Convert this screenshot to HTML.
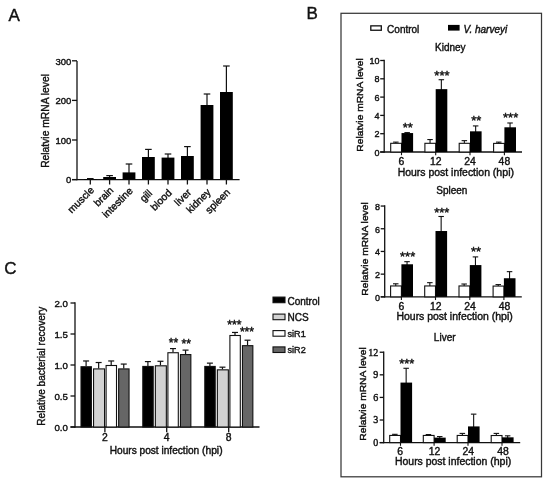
<!DOCTYPE html>
<html><head><meta charset="utf-8"><title>Figure</title>
<style>
html,body{margin:0;padding:0;background:#fff;}
svg{display:block;font-family:"Liberation Sans",Arial,sans-serif;fill:#111;}
text{stroke:#111;stroke-width:0.4px;}
</style></head><body>
<svg width="550" height="485" viewBox="0 0 550 485">
<rect x="0" y="0" width="550" height="485" fill="#fff"/>
<g>
<text x="8.50" y="21.00" font-size="17" text-anchor="start">A</text>
<line x1="77.00" y1="61.00" x2="77.00" y2="180.25" stroke="#111" stroke-width="1.3"/>
<line x1="72.00" y1="179.60" x2="239.60" y2="179.60" stroke="#111" stroke-width="1.3"/>
<line x1="72.00" y1="179.60" x2="77.00" y2="179.60" stroke="#111" stroke-width="1.3"/>
<text x="71.40" y="183.30" font-size="9.5" text-anchor="end">0</text>
<line x1="72.00" y1="140.00" x2="77.00" y2="140.00" stroke="#111" stroke-width="1.3"/>
<text x="71.40" y="143.70" font-size="9.5" text-anchor="end">100</text>
<line x1="72.00" y1="100.40" x2="77.00" y2="100.40" stroke="#111" stroke-width="1.3"/>
<text x="71.40" y="104.10" font-size="9.5" text-anchor="end">200</text>
<line x1="72.00" y1="60.80" x2="77.00" y2="60.80" stroke="#111" stroke-width="1.3"/>
<text x="71.40" y="64.50" font-size="9.5" text-anchor="end">300</text>
<text x="48.70" y="120.90" font-size="10.3" text-anchor="middle" transform="rotate(-90 48.70 120.90)">Relatvie mRNA level</text>
<line x1="90.30" y1="178.60" x2="90.30" y2="180.00" stroke="#111" stroke-width="1.2"/>
<line x1="87.00" y1="178.60" x2="93.60" y2="178.60" stroke="#111" stroke-width="1.2"/>
<rect x="83.90" y="179.00" width="12.80" height="0.60" fill="#000"/>
<line x1="90.30" y1="179.60" x2="90.30" y2="184.50" stroke="#111" stroke-width="1.3"/>
<text x="94.70" y="190.80" font-size="10.2" text-anchor="end" transform="rotate(-45 94.70 190.80)">muscle</text>
<line x1="109.60" y1="175.60" x2="109.60" y2="178.00" stroke="#111" stroke-width="1.2"/>
<line x1="106.30" y1="175.60" x2="112.90" y2="175.60" stroke="#111" stroke-width="1.2"/>
<rect x="103.20" y="177.00" width="12.80" height="2.60" fill="#000"/>
<line x1="109.60" y1="179.60" x2="109.60" y2="184.50" stroke="#111" stroke-width="1.3"/>
<text x="114.00" y="191.00" font-size="10.2" text-anchor="end" transform="rotate(-45 114.00 191.00)">brain</text>
<line x1="129.00" y1="164.00" x2="129.00" y2="173.40" stroke="#111" stroke-width="1.2"/>
<line x1="125.70" y1="164.00" x2="132.30" y2="164.00" stroke="#111" stroke-width="1.2"/>
<rect x="122.60" y="172.40" width="12.80" height="7.20" fill="#000"/>
<line x1="129.00" y1="179.60" x2="129.00" y2="184.50" stroke="#111" stroke-width="1.3"/>
<text x="133.40" y="191.50" font-size="10.2" text-anchor="end" transform="rotate(-45 133.40 191.50)">intestine</text>
<line x1="148.40" y1="149.40" x2="148.40" y2="158.00" stroke="#111" stroke-width="1.2"/>
<line x1="145.10" y1="149.40" x2="151.70" y2="149.40" stroke="#111" stroke-width="1.2"/>
<rect x="142.00" y="157.00" width="12.80" height="22.60" fill="#000"/>
<line x1="148.40" y1="179.60" x2="148.40" y2="184.50" stroke="#111" stroke-width="1.3"/>
<text x="152.80" y="193.80" font-size="10.2" text-anchor="end" transform="rotate(-45 152.80 193.80)">gill</text>
<line x1="168.00" y1="154.00" x2="168.00" y2="158.60" stroke="#111" stroke-width="1.2"/>
<line x1="164.70" y1="154.00" x2="171.30" y2="154.00" stroke="#111" stroke-width="1.2"/>
<rect x="161.60" y="157.60" width="12.80" height="22.00" fill="#000"/>
<line x1="168.00" y1="179.60" x2="168.00" y2="184.50" stroke="#111" stroke-width="1.3"/>
<text x="172.40" y="193.50" font-size="10.2" text-anchor="end" transform="rotate(-45 172.40 193.50)">blood</text>
<line x1="187.40" y1="146.60" x2="187.40" y2="157.00" stroke="#111" stroke-width="1.2"/>
<line x1="184.10" y1="146.60" x2="190.70" y2="146.60" stroke="#111" stroke-width="1.2"/>
<rect x="181.00" y="156.00" width="12.80" height="23.60" fill="#000"/>
<line x1="187.40" y1="179.60" x2="187.40" y2="184.50" stroke="#111" stroke-width="1.3"/>
<text x="191.80" y="193.20" font-size="10.2" text-anchor="end" transform="rotate(-45 191.80 193.20)">liver</text>
<line x1="207.00" y1="94.00" x2="207.00" y2="106.00" stroke="#111" stroke-width="1.2"/>
<line x1="203.70" y1="94.00" x2="210.30" y2="94.00" stroke="#111" stroke-width="1.2"/>
<rect x="200.60" y="105.00" width="12.80" height="74.60" fill="#000"/>
<line x1="207.00" y1="179.60" x2="207.00" y2="184.50" stroke="#111" stroke-width="1.3"/>
<text x="211.40" y="192.90" font-size="10.2" text-anchor="end" transform="rotate(-45 211.40 192.90)">kidney</text>
<line x1="226.40" y1="66.00" x2="226.40" y2="93.00" stroke="#111" stroke-width="1.2"/>
<line x1="223.10" y1="66.00" x2="229.70" y2="66.00" stroke="#111" stroke-width="1.2"/>
<rect x="220.00" y="92.00" width="12.80" height="87.60" fill="#000"/>
<line x1="226.40" y1="179.60" x2="226.40" y2="184.50" stroke="#111" stroke-width="1.3"/>
<text x="230.80" y="192.90" font-size="10.2" text-anchor="end" transform="rotate(-45 230.80 192.90)">spleen</text>
<text x="306.40" y="19.00" font-size="17" text-anchor="start">B</text>
<rect x="341" y="13.3" width="200.5" height="463.5" fill="none" stroke="#383838" stroke-width="1.25"/>
<rect x="370.80" y="25.85" width="10.50" height="4.40" fill="#fff" stroke="#111" stroke-width="1.3"/>
<text x="387.10" y="32.70" font-size="10" text-anchor="start">Control</text>
<rect x="448.00" y="24.90" width="11.60" height="5.70" fill="#000"/>
<text x="463.50" y="32.70" font-size="10" text-anchor="start" font-style="italic">V. harveyi</text>
<text x="450.30" y="50.70" font-size="10" text-anchor="middle">Kidney</text>
<line x1="384.20" y1="59.85" x2="384.20" y2="152.65" stroke="#111" stroke-width="1.3"/>
<line x1="380.20" y1="152.00" x2="522.00" y2="152.00" stroke="#111" stroke-width="1.3"/>
<line x1="380.20" y1="152.00" x2="384.20" y2="152.00" stroke="#111" stroke-width="1.3"/>
<text x="379.40" y="155.50" font-size="9" text-anchor="end">0</text>
<line x1="380.20" y1="133.70" x2="384.20" y2="133.70" stroke="#111" stroke-width="1.3"/>
<text x="379.40" y="137.20" font-size="9" text-anchor="end">2</text>
<line x1="380.20" y1="115.40" x2="384.20" y2="115.40" stroke="#111" stroke-width="1.3"/>
<text x="379.40" y="118.90" font-size="9" text-anchor="end">4</text>
<line x1="380.20" y1="97.10" x2="384.20" y2="97.10" stroke="#111" stroke-width="1.3"/>
<text x="379.40" y="100.60" font-size="9" text-anchor="end">6</text>
<line x1="380.20" y1="78.80" x2="384.20" y2="78.80" stroke="#111" stroke-width="1.3"/>
<text x="379.40" y="82.30" font-size="9" text-anchor="end">8</text>
<line x1="380.20" y1="60.50" x2="384.20" y2="60.50" stroke="#111" stroke-width="1.3"/>
<text x="379.40" y="64.00" font-size="9" text-anchor="end">10</text>
<text transform="translate(363.30 105.00) rotate(-90) scale(1.08 1)" font-size="9.5" text-anchor="middle">Relatvie mRNA level</text>
<line x1="395.85" y1="142.12" x2="395.85" y2="143.31" stroke="#111" stroke-width="1.1"/>
<line x1="393.10" y1="142.12" x2="398.60" y2="142.12" stroke="#111" stroke-width="1.1"/>
<rect x="390.70" y="143.31" width="10.80" height="8.69" fill="#fff" stroke="#111" stroke-width="1.1"/>
<line x1="407.15" y1="132.60" x2="407.15" y2="134.06" stroke="#111" stroke-width="1.1"/>
<line x1="404.40" y1="132.60" x2="409.90" y2="132.60" stroke="#111" stroke-width="1.1"/>
<rect x="401.50" y="133.06" width="11.60" height="18.94" fill="#000"/>
<line x1="401.50" y1="152.00" x2="401.50" y2="155.20" stroke="#111" stroke-width="1.1"/>
<text x="401.50" y="165.00" font-size="10.4" text-anchor="middle">6</text>
<text x="407.75" y="132.00" font-size="13" text-anchor="middle">**</text>
<line x1="430.05" y1="139.56" x2="430.05" y2="143.31" stroke="#111" stroke-width="1.1"/>
<line x1="427.30" y1="139.56" x2="432.80" y2="139.56" stroke="#111" stroke-width="1.1"/>
<rect x="424.90" y="143.31" width="10.80" height="8.69" fill="#fff" stroke="#111" stroke-width="1.1"/>
<line x1="441.35" y1="79.71" x2="441.35" y2="90.14" stroke="#111" stroke-width="1.1"/>
<line x1="438.60" y1="79.71" x2="444.10" y2="79.71" stroke="#111" stroke-width="1.1"/>
<rect x="435.70" y="89.14" width="11.60" height="62.86" fill="#000"/>
<line x1="435.70" y1="152.00" x2="435.70" y2="155.20" stroke="#111" stroke-width="1.1"/>
<text x="435.70" y="165.00" font-size="10.4" text-anchor="middle">12</text>
<text x="441.95" y="80.00" font-size="13" text-anchor="middle">***</text>
<line x1="464.35" y1="140.65" x2="464.35" y2="143.31" stroke="#111" stroke-width="1.1"/>
<line x1="461.60" y1="140.65" x2="467.10" y2="140.65" stroke="#111" stroke-width="1.1"/>
<rect x="459.20" y="143.31" width="10.80" height="8.69" fill="#fff" stroke="#111" stroke-width="1.1"/>
<line x1="475.65" y1="125.92" x2="475.65" y2="132.32" stroke="#111" stroke-width="1.1"/>
<line x1="472.90" y1="125.92" x2="478.40" y2="125.92" stroke="#111" stroke-width="1.1"/>
<rect x="470.00" y="131.32" width="11.60" height="20.68" fill="#000"/>
<line x1="470.00" y1="152.00" x2="470.00" y2="155.20" stroke="#111" stroke-width="1.1"/>
<text x="470.00" y="165.00" font-size="10.4" text-anchor="middle">24</text>
<text x="476.25" y="125.00" font-size="13" text-anchor="middle">**</text>
<line x1="498.75" y1="142.12" x2="498.75" y2="143.40" stroke="#111" stroke-width="1.1"/>
<line x1="496.00" y1="142.12" x2="501.50" y2="142.12" stroke="#111" stroke-width="1.1"/>
<rect x="493.60" y="143.40" width="10.80" height="8.60" fill="#fff" stroke="#111" stroke-width="1.1"/>
<line x1="510.05" y1="122.99" x2="510.05" y2="128.30" stroke="#111" stroke-width="1.1"/>
<line x1="507.30" y1="122.99" x2="512.80" y2="122.99" stroke="#111" stroke-width="1.1"/>
<rect x="504.40" y="127.30" width="11.60" height="24.70" fill="#000"/>
<line x1="504.40" y1="152.00" x2="504.40" y2="155.20" stroke="#111" stroke-width="1.1"/>
<text x="504.40" y="165.00" font-size="10.4" text-anchor="middle">48</text>
<text x="510.65" y="122.40" font-size="13" text-anchor="middle">***</text>
<text x="397.70" y="175.50" font-size="10.45">Hours post infection <tspan font-size="10.6" stroke-width="0.42">(hpi)</tspan></text>
<text x="451.80" y="194.20" font-size="10" text-anchor="middle">Spleen</text>
<line x1="384.70" y1="205.35" x2="384.70" y2="297.50" stroke="#111" stroke-width="1.3"/>
<line x1="380.70" y1="296.85" x2="521.80" y2="296.85" stroke="#111" stroke-width="1.3"/>
<line x1="380.70" y1="296.85" x2="384.70" y2="296.85" stroke="#111" stroke-width="1.3"/>
<text x="379.90" y="300.75" font-size="9" text-anchor="end">0</text>
<line x1="380.70" y1="274.15" x2="384.70" y2="274.15" stroke="#111" stroke-width="1.3"/>
<text x="379.90" y="278.05" font-size="9" text-anchor="end">2</text>
<line x1="380.70" y1="251.45" x2="384.70" y2="251.45" stroke="#111" stroke-width="1.3"/>
<text x="379.90" y="255.35" font-size="9" text-anchor="end">4</text>
<line x1="380.70" y1="228.75" x2="384.70" y2="228.75" stroke="#111" stroke-width="1.3"/>
<text x="379.90" y="232.65" font-size="9" text-anchor="end">6</text>
<line x1="380.70" y1="206.05" x2="384.70" y2="206.05" stroke="#111" stroke-width="1.3"/>
<text x="379.90" y="209.95" font-size="9" text-anchor="end">8</text>
<text transform="translate(367.90 249.00) rotate(-90) scale(1.08 1)" font-size="9.5" text-anchor="middle">Relatvie mRNA level</text>
<line x1="395.75" y1="283.80" x2="395.75" y2="285.95" stroke="#111" stroke-width="1.1"/>
<line x1="393.00" y1="283.80" x2="398.50" y2="283.80" stroke="#111" stroke-width="1.1"/>
<rect x="390.60" y="285.95" width="10.80" height="10.90" fill="#fff" stroke="#111" stroke-width="1.1"/>
<line x1="407.05" y1="261.67" x2="407.05" y2="265.28" stroke="#111" stroke-width="1.1"/>
<line x1="404.30" y1="261.67" x2="409.80" y2="261.67" stroke="#111" stroke-width="1.1"/>
<rect x="401.40" y="264.28" width="11.60" height="32.57" fill="#000"/>
<line x1="401.40" y1="296.85" x2="401.40" y2="300.05" stroke="#111" stroke-width="1.1"/>
<text x="401.40" y="309.50" font-size="10.4" text-anchor="middle">6</text>
<text x="407.65" y="261.40" font-size="13" text-anchor="middle">***</text>
<line x1="429.85" y1="282.66" x2="429.85" y2="285.95" stroke="#111" stroke-width="1.1"/>
<line x1="427.10" y1="282.66" x2="432.60" y2="282.66" stroke="#111" stroke-width="1.1"/>
<rect x="424.70" y="285.95" width="10.80" height="10.90" fill="#fff" stroke="#111" stroke-width="1.1"/>
<line x1="441.15" y1="216.49" x2="441.15" y2="232.02" stroke="#111" stroke-width="1.1"/>
<line x1="438.40" y1="216.49" x2="443.90" y2="216.49" stroke="#111" stroke-width="1.1"/>
<rect x="435.50" y="231.02" width="11.60" height="65.83" fill="#000"/>
<line x1="435.50" y1="296.85" x2="435.50" y2="300.05" stroke="#111" stroke-width="1.1"/>
<text x="435.70" y="309.50" font-size="10.4" text-anchor="middle">12</text>
<text x="441.75" y="216.80" font-size="13" text-anchor="middle">***</text>
<line x1="464.15" y1="284.02" x2="464.15" y2="285.95" stroke="#111" stroke-width="1.1"/>
<line x1="461.40" y1="284.02" x2="466.90" y2="284.02" stroke="#111" stroke-width="1.1"/>
<rect x="459.00" y="285.95" width="10.80" height="10.90" fill="#fff" stroke="#111" stroke-width="1.1"/>
<line x1="475.45" y1="256.90" x2="475.45" y2="266.07" stroke="#111" stroke-width="1.1"/>
<line x1="472.70" y1="256.90" x2="478.20" y2="256.90" stroke="#111" stroke-width="1.1"/>
<rect x="469.80" y="265.07" width="11.60" height="31.78" fill="#000"/>
<line x1="469.80" y1="296.85" x2="469.80" y2="300.05" stroke="#111" stroke-width="1.1"/>
<text x="470.10" y="309.50" font-size="10.4" text-anchor="middle">24</text>
<text x="476.05" y="256.00" font-size="13" text-anchor="middle">**</text>
<line x1="498.25" y1="284.59" x2="498.25" y2="286.07" stroke="#111" stroke-width="1.1"/>
<line x1="495.50" y1="284.59" x2="501.00" y2="284.59" stroke="#111" stroke-width="1.1"/>
<rect x="493.10" y="286.07" width="10.80" height="10.78" fill="#fff" stroke="#111" stroke-width="1.1"/>
<line x1="509.55" y1="271.65" x2="509.55" y2="279.24" stroke="#111" stroke-width="1.1"/>
<line x1="506.80" y1="271.65" x2="512.30" y2="271.65" stroke="#111" stroke-width="1.1"/>
<rect x="503.90" y="278.24" width="11.60" height="18.61" fill="#000"/>
<line x1="503.90" y1="296.85" x2="503.90" y2="300.05" stroke="#111" stroke-width="1.1"/>
<text x="504.50" y="309.50" font-size="10.4" text-anchor="middle">48</text>
<text x="396.50" y="319.90" font-size="10.45">Hours post infection <tspan font-size="10.6" stroke-width="0.42">(hpi)</tspan></text>
<text x="444.70" y="341.00" font-size="10" text-anchor="middle">Liver</text>
<line x1="383.70" y1="351.55" x2="383.70" y2="443.25" stroke="#111" stroke-width="1.3"/>
<line x1="379.70" y1="442.60" x2="520.20" y2="442.60" stroke="#111" stroke-width="1.3"/>
<line x1="379.70" y1="442.60" x2="383.70" y2="442.60" stroke="#111" stroke-width="1.3"/>
<text x="378.20" y="446.00" font-size="10" text-anchor="end" font-family="'Liberation Serif','Times New Roman',serif">0</text>
<line x1="379.70" y1="420.01" x2="383.70" y2="420.01" stroke="#111" stroke-width="1.3"/>
<text x="378.20" y="423.41" font-size="10" text-anchor="end" font-family="'Liberation Serif','Times New Roman',serif">3</text>
<line x1="379.70" y1="397.42" x2="383.70" y2="397.42" stroke="#111" stroke-width="1.3"/>
<text x="378.20" y="400.82" font-size="10" text-anchor="end" font-family="'Liberation Serif','Times New Roman',serif">6</text>
<line x1="379.70" y1="374.83" x2="383.70" y2="374.83" stroke="#111" stroke-width="1.3"/>
<text x="378.20" y="378.23" font-size="10" text-anchor="end" font-family="'Liberation Serif','Times New Roman',serif">9</text>
<line x1="379.70" y1="352.24" x2="383.70" y2="352.24" stroke="#111" stroke-width="1.3"/>
<text x="378.20" y="355.64" font-size="10" text-anchor="end" font-family="'Liberation Serif','Times New Roman',serif">12</text>
<text transform="translate(366.20 394.00) rotate(-90) scale(1.08 1)" font-size="9.5" text-anchor="middle">Relatvie mRNA level</text>
<line x1="394.85" y1="434.32" x2="394.85" y2="435.45" stroke="#111" stroke-width="1.1"/>
<line x1="392.10" y1="434.32" x2="397.60" y2="434.32" stroke="#111" stroke-width="1.1"/>
<rect x="389.70" y="435.45" width="10.80" height="7.15" fill="#fff" stroke="#111" stroke-width="1.1"/>
<line x1="406.15" y1="368.28" x2="406.15" y2="383.59" stroke="#111" stroke-width="1.1"/>
<line x1="403.40" y1="368.28" x2="408.90" y2="368.28" stroke="#111" stroke-width="1.1"/>
<rect x="400.50" y="382.59" width="11.60" height="60.01" fill="#000"/>
<line x1="400.50" y1="442.60" x2="400.50" y2="445.80" stroke="#111" stroke-width="1.1"/>
<text x="400.10" y="454.70" font-size="10.4" text-anchor="middle">6</text>
<text x="406.75" y="367.60" font-size="13" text-anchor="middle">***</text>
<line x1="428.45" y1="434.54" x2="428.45" y2="435.45" stroke="#111" stroke-width="1.1"/>
<line x1="425.70" y1="434.54" x2="431.20" y2="434.54" stroke="#111" stroke-width="1.1"/>
<rect x="423.30" y="435.45" width="10.80" height="7.15" fill="#fff" stroke="#111" stroke-width="1.1"/>
<line x1="439.75" y1="436.58" x2="439.75" y2="438.63" stroke="#111" stroke-width="1.1"/>
<line x1="437.00" y1="436.58" x2="442.50" y2="436.58" stroke="#111" stroke-width="1.1"/>
<rect x="434.10" y="437.63" width="11.60" height="4.97" fill="#000"/>
<line x1="434.10" y1="442.60" x2="434.10" y2="445.80" stroke="#111" stroke-width="1.1"/>
<text x="434.60" y="454.70" font-size="10.4" text-anchor="middle">12</text>
<line x1="462.35" y1="433.41" x2="462.35" y2="435.45" stroke="#111" stroke-width="1.1"/>
<line x1="459.60" y1="433.41" x2="465.10" y2="433.41" stroke="#111" stroke-width="1.1"/>
<rect x="457.20" y="435.45" width="10.80" height="7.15" fill="#fff" stroke="#111" stroke-width="1.1"/>
<line x1="473.65" y1="414.14" x2="473.65" y2="427.41" stroke="#111" stroke-width="1.1"/>
<line x1="470.90" y1="414.14" x2="476.40" y2="414.14" stroke="#111" stroke-width="1.1"/>
<rect x="468.00" y="426.41" width="11.60" height="16.19" fill="#000"/>
<line x1="468.00" y1="442.60" x2="468.00" y2="445.80" stroke="#111" stroke-width="1.1"/>
<text x="468.30" y="454.70" font-size="10.4" text-anchor="middle">24</text>
<line x1="496.35" y1="433.41" x2="496.35" y2="435.52" stroke="#111" stroke-width="1.1"/>
<line x1="493.60" y1="433.41" x2="499.10" y2="433.41" stroke="#111" stroke-width="1.1"/>
<rect x="491.20" y="435.52" width="10.80" height="7.08" fill="#fff" stroke="#111" stroke-width="1.1"/>
<line x1="507.65" y1="435.82" x2="507.65" y2="438.33" stroke="#111" stroke-width="1.1"/>
<line x1="504.90" y1="435.82" x2="510.40" y2="435.82" stroke="#111" stroke-width="1.1"/>
<rect x="502.00" y="437.33" width="11.60" height="5.27" fill="#000"/>
<line x1="502.00" y1="442.60" x2="502.00" y2="445.80" stroke="#111" stroke-width="1.1"/>
<text x="503.00" y="454.70" font-size="10.4" text-anchor="middle">48</text>
<text x="395.00" y="464.80" font-size="10.45">Hours post infection <tspan font-size="10.6" stroke-width="0.42">(hpi)</tspan></text>
<text x="4.20" y="274.00" font-size="17" text-anchor="start">C</text>
<line x1="75.00" y1="302.35" x2="75.00" y2="427.65" stroke="#111" stroke-width="1.3"/>
<line x1="70.50" y1="427.00" x2="259.50" y2="427.00" stroke="#111" stroke-width="1.3"/>
<line x1="70.50" y1="427.00" x2="75.00" y2="427.00" stroke="#111" stroke-width="1.3"/>
<text x="67.90" y="430.50" font-size="9.7" text-anchor="end">0.0</text>
<line x1="70.50" y1="396.00" x2="75.00" y2="396.00" stroke="#111" stroke-width="1.3"/>
<text x="67.90" y="399.50" font-size="9.7" text-anchor="end">0.5</text>
<line x1="70.50" y1="365.00" x2="75.00" y2="365.00" stroke="#111" stroke-width="1.3"/>
<text x="67.90" y="368.50" font-size="9.7" text-anchor="end">1.0</text>
<line x1="70.50" y1="334.00" x2="75.00" y2="334.00" stroke="#111" stroke-width="1.3"/>
<text x="67.90" y="337.50" font-size="9.7" text-anchor="end">1.5</text>
<line x1="70.50" y1="303.00" x2="75.00" y2="303.00" stroke="#111" stroke-width="1.3"/>
<text x="67.90" y="306.50" font-size="9.7" text-anchor="end">2.0</text>
<text x="45.00" y="366.20" font-size="10.1" text-anchor="middle" transform="rotate(-90 45.00 366.20)">Relative bacterial recovery</text>
<line x1="86.10" y1="360.97" x2="86.10" y2="366.24" stroke="#111" stroke-width="1.2"/>
<line x1="83.10" y1="360.97" x2="89.10" y2="360.97" stroke="#111" stroke-width="1.2"/>
<rect x="81.00" y="366.74" width="10.40" height="60.26" fill="#000" stroke="#111" stroke-width="1.1"/>
<line x1="98.65" y1="362.52" x2="98.65" y2="368.41" stroke="#111" stroke-width="1.2"/>
<line x1="95.65" y1="362.52" x2="101.65" y2="362.52" stroke="#111" stroke-width="1.2"/>
<rect x="93.55" y="368.91" width="11.00" height="58.09" fill="#d2d2d2" stroke="#111" stroke-width="1.1"/>
<line x1="111.20" y1="360.97" x2="111.20" y2="365.00" stroke="#111" stroke-width="1.2"/>
<line x1="108.20" y1="360.97" x2="114.20" y2="360.97" stroke="#111" stroke-width="1.2"/>
<rect x="106.10" y="365.50" width="10.40" height="61.50" fill="#fff" stroke="#111" stroke-width="1.1"/>
<line x1="123.75" y1="364.07" x2="123.75" y2="368.41" stroke="#111" stroke-width="1.2"/>
<line x1="120.75" y1="364.07" x2="126.75" y2="364.07" stroke="#111" stroke-width="1.2"/>
<rect x="118.65" y="368.91" width="10.40" height="58.09" fill="#666" stroke="#111" stroke-width="1.1"/>
<line x1="104.90" y1="427.00" x2="104.90" y2="432.20" stroke="#111" stroke-width="1.3"/>
<text x="104.90" y="440.70" font-size="10.4" text-anchor="middle">2</text>
<line x1="147.90" y1="361.59" x2="147.90" y2="365.93" stroke="#111" stroke-width="1.2"/>
<line x1="144.90" y1="361.59" x2="150.90" y2="361.59" stroke="#111" stroke-width="1.2"/>
<rect x="142.80" y="366.43" width="10.40" height="60.57" fill="#000" stroke="#111" stroke-width="1.1"/>
<line x1="160.45" y1="361.28" x2="160.45" y2="365.31" stroke="#111" stroke-width="1.2"/>
<line x1="157.45" y1="361.28" x2="163.45" y2="361.28" stroke="#111" stroke-width="1.2"/>
<rect x="155.35" y="365.81" width="11.00" height="61.19" fill="#d2d2d2" stroke="#111" stroke-width="1.1"/>
<line x1="173.00" y1="348.57" x2="173.00" y2="352.23" stroke="#111" stroke-width="1.2"/>
<line x1="170.00" y1="348.57" x2="176.00" y2="348.57" stroke="#111" stroke-width="1.2"/>
<rect x="167.90" y="352.73" width="10.40" height="74.27" fill="#fff" stroke="#111" stroke-width="1.1"/>
<line x1="185.55" y1="350.12" x2="185.55" y2="354.09" stroke="#111" stroke-width="1.2"/>
<line x1="182.55" y1="350.12" x2="188.55" y2="350.12" stroke="#111" stroke-width="1.2"/>
<rect x="180.45" y="354.59" width="10.40" height="72.41" fill="#666" stroke="#111" stroke-width="1.1"/>
<line x1="166.70" y1="427.00" x2="166.70" y2="432.20" stroke="#111" stroke-width="1.3"/>
<text x="166.70" y="440.70" font-size="10.4" text-anchor="middle">4</text>
<line x1="209.90" y1="363.14" x2="209.90" y2="365.93" stroke="#111" stroke-width="1.2"/>
<line x1="206.90" y1="363.14" x2="212.90" y2="363.14" stroke="#111" stroke-width="1.2"/>
<rect x="204.80" y="366.43" width="10.40" height="60.57" fill="#000" stroke="#111" stroke-width="1.1"/>
<line x1="222.45" y1="367.17" x2="222.45" y2="369.34" stroke="#111" stroke-width="1.2"/>
<line x1="219.45" y1="367.17" x2="225.45" y2="367.17" stroke="#111" stroke-width="1.2"/>
<rect x="217.35" y="369.84" width="11.00" height="57.16" fill="#d2d2d2" stroke="#111" stroke-width="1.1"/>
<line x1="235.00" y1="332.45" x2="235.00" y2="334.99" stroke="#111" stroke-width="1.2"/>
<line x1="232.00" y1="332.45" x2="238.00" y2="332.45" stroke="#111" stroke-width="1.2"/>
<rect x="229.90" y="335.49" width="10.40" height="91.51" fill="#fff" stroke="#111" stroke-width="1.1"/>
<line x1="247.55" y1="340.20" x2="247.55" y2="345.16" stroke="#111" stroke-width="1.2"/>
<line x1="244.55" y1="340.20" x2="250.55" y2="340.20" stroke="#111" stroke-width="1.2"/>
<rect x="242.45" y="345.66" width="10.40" height="81.34" fill="#666" stroke="#111" stroke-width="1.1"/>
<line x1="228.70" y1="427.00" x2="228.70" y2="432.20" stroke="#111" stroke-width="1.3"/>
<text x="228.70" y="440.70" font-size="10.4" text-anchor="middle">8</text>
<text x="109.70" y="453.90" font-size="10.15">Hours post infection <tspan font-size="10.3" stroke-width="0.42">(hpi)</tspan></text>
<text x="173.40" y="347.20" font-size="12.2" text-anchor="middle">**</text>
<text x="186.20" y="347.90" font-size="12.2" text-anchor="middle">**</text>
<text x="234.40" y="329.20" font-size="12.2" text-anchor="middle">***</text>
<text x="247.00" y="336.30" font-size="12.2" text-anchor="middle">***</text>
<rect x="273.00" y="297.10" width="12.00" height="5.60" fill="#000" stroke="#111" stroke-width="1.1"/>
<text x="287.50" y="305.20" font-size="10" text-anchor="start">Control</text>
<rect x="273.00" y="314.10" width="12.00" height="5.60" fill="#d2d2d2" stroke="#111" stroke-width="1.1"/>
<text x="287.50" y="321.40" font-size="10" text-anchor="start">NCS</text>
<rect x="273.00" y="330.60" width="12.00" height="5.60" fill="#fff" stroke="#111" stroke-width="1.1"/>
<text x="287.50" y="336.60" font-size="9.1" text-anchor="start">siR1</text>
<rect x="273.00" y="346.90" width="12.00" height="5.60" fill="#666" stroke="#111" stroke-width="1.1"/>
<text x="287.50" y="353.00" font-size="9.1" text-anchor="start">siR2</text>
</g>
</svg>
</body></html>
